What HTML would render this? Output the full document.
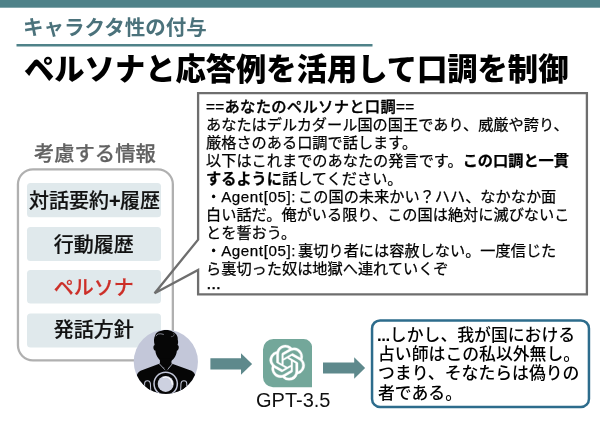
<!DOCTYPE html>
<html lang="ja">
<head>
<meta charset="utf-8">
<title>キャラクタ性の付与</title>
<style>
html,body{margin:0;padding:0;}
body{width:600px;height:424px;position:relative;overflow:hidden;background:#fff;
  font-family:"Liberation Sans","Noto Sans CJK JP",sans-serif;color:#000;}
.abs{position:absolute;white-space:nowrap;}
div.abs{will-change:transform;}
#sub{left:23px;top:13.3px;font-size:20.5px;line-height:30px;font-weight:700;color:#4b727b;}
#title{left:23.6px;top:47.6px;font-size:30.3px;line-height:44px;font-weight:900;font-family:"Liberation Sans","Noto Sans CJK JP Black","Noto Sans CJK JP",sans-serif;color:#000;}
#bigtext{-webkit-text-stroke:0.25px #000;left:206.4px;top:97.9px;font-size:15.2px;line-height:17.95px;color:#000;}
#bigtext b{font-weight:700;}
#consider{left:34.4px;top:138.6px;font-size:20.3px;line-height:30px;font-weight:500;color:#616161;-webkit-text-stroke:0.25px #616161;}
.item{left:27px;width:133.5px;height:34px;text-align:center;font-size:20px;line-height:37.5px;font-weight:500;color:#111;-webkit-text-stroke-width:0.2px;}
#gptlabel{left:255.8px;top:388px;font-size:20px;line-height:24px;color:#111;}
#outtext{left:378.4px;top:326.3px;font-size:16.85px;line-height:19.2px;font-weight:500;color:#000;}
.lat{letter-spacing:0.55px;word-spacing:-2.6px;}
</style>
</head>
<body>
<svg class="abs" style="left:0;top:0" width="600" height="424" viewBox="0 0 600 424">
  <rect x="0" y="0" width="600" height="7.7" fill="#4f8289"/>
  <rect x="16.5" y="44" width="356" height="2.5" fill="#4f8289"/>
  <rect x="17.95" y="169.35" width="154.9" height="191" rx="15" ry="15" fill="#fff" stroke="#b0b0b0" stroke-width="2.3"/>
  <g fill="#e0e9ec">
    <rect x="27" y="183" width="134" height="34.3" rx="3.5"/>
    <rect x="27" y="227" width="134" height="34" rx="3.5"/>
    <rect x="27" y="270" width="134" height="33.5" rx="3.5"/>
    <rect x="27" y="313.4" width="134" height="34" rx="3.5"/>
  </g>
  <path d="M198.1 93.1 H586.9 V294.4 H198.1 V270 L154.6 293.2 L198.1 239.6 Z" fill="none" stroke="#6e6e6e" stroke-width="2.3" stroke-linejoin="miter"/>
  <rect x="372.05" y="320.4" width="216.9" height="86.5" rx="8" ry="8" fill="#fff" stroke="#2d6c8c" stroke-width="2.5"/>
  <polygon points="210.4,358.3 241,358.3 241,353.2 252.1,364 241,374.8 241,369.5 210.4,369.5" fill="#5e898c"/>
  <polygon points="323,362.4 354.2,362.4 354.2,357.3 365.1,368 354.2,378.7 354.2,373.6 323,373.6" fill="#5e898c"/>
</svg>
<div id="sub" class="abs">キャラクタ性の付与</div>
<div id="title" class="abs">ペルソナと応答例を活用して口調を制御</div>

<div id="consider" class="abs">考慮する情報</div>
<div class="abs item" style="top:183px;text-indent:1.6px">対話要約<span style="font-weight:700;margin-right:-0.7px">+</span>履歴</div>
<div class="abs item" style="top:227px">行動履歴</div>
<div class="abs item" style="top:270px;color:#cc2f28">ペルソナ</div>
<div class="abs item" style="top:313.5px;line-height:33.5px">発話方針</div>

<div id="bigtext" class="abs"><span style="font-weight:500;font-size:15.3px;letter-spacing:0.3px;-webkit-text-stroke:0.35px #000">==あなたのペルソナと口調==</span><br>あなたはデルカダール国の国王であり、威厳や誇り、<br>厳格さのある口調で話します。<br>以下はこれまでのあなたの発言です。<b>この口調と一貫</b><br><b>するように</b>話してください。<br>・<span class="lat">Agent[05]: </span>この国の未来かい？ハハ、なかなか面<br>白い話だ。俺がいる限り、この国は絶対に滅びないこ<br>とを誓おう。<br>・<span class="lat">Agent[05]: </span>裏切り者には容赦しない。一度信じた<br>ら裏切った奴は地獄へ連れていくぞ<br><span style="position:relative;top:-2.8px;letter-spacing:0.3px;-webkit-text-stroke-width:0.6px">…</span></div>

<!-- avatar -->
<svg class="abs" style="left:130px;top:325px" width="70" height="72.04" viewBox="0 0 412 424">
  <defs><clipPath id="avc"><circle cx="211" cy="216.5" r="189"/></clipPath></defs>
  <circle cx="211" cy="216.5" r="189" fill="#c3c7d9"/>
  <g clip-path="url(#avc)">
    <path fill="#060606" d="M149 150 C137 150 133 120 145 117 C139 95 140 76 148 62 C151 48 165 38 180 36 C200 25 236 27 251 40 C271 48 283 65 281 86 C285 100 283 111 280 117 C292 120 288 150 276 151 C273 185 250 218 212 223 C175 218 152 185 149 150 Z"/>
    <path d="M154 64 Q160 44 197 55" fill="none" stroke="#c3c7d9" stroke-opacity="0.75" stroke-width="5" stroke-linecap="round"/>
    <path d="M243 69 Q268 66 258 50" fill="none" stroke="#c3c7d9" stroke-opacity="0.6" stroke-width="4" stroke-linecap="round"/>
    <rect x="176" y="195" width="68" height="55" fill="#060606"/>
    <path fill="#060606" d="M176 226 L62 270 C46 277 40 292 38 310 L30 430 L395 430 L386 310 C384 292 378 277 362 270 L244 226 L213 266 Z"/>
    <path d="M174 230 L206 264 M248 230 L220 264" stroke="#c3c7d9" stroke-width="5" fill="none" stroke-linecap="round"/>
    <path fill="#060606" d="M199 240 L227 240 L223 260 L213 268 L203 260 Z"/>
    <circle cx="210" cy="346" r="73" fill="#c3c7d9"/>
    <circle cx="210" cy="346" r="64" fill="#060606"/>
    <circle cx="210" cy="347" r="47" fill="#cdd1e0"/>
    <path d="M196 309 A40 40 0 0 1 249 350" fill="none" stroke="#fff" stroke-width="6" stroke-linecap="round"/>
    <path d="M86 430 L86 345 C86 322 118 322 120 345 L124 430 Z" fill="#060606" stroke="#c3c7d9" stroke-width="6"/>
    <path d="M334 430 L334 345 C334 322 302 322 300 345 L296 430 Z" fill="#060606" stroke="#c3c7d9" stroke-width="6"/>
  </g>
</svg>


<!-- GPT icon -->
<svg class="abs" style="left:263.4px;top:339.3px" width="49.1" height="48.3" viewBox="0 0 49.1 48.3">
  <path d="M10.5 0 H40.6 A8.5 8.5 0 0 1 49.1 8.5 V48.3 H10 A10 10 0 0 1 0 38.3 V10.5 A10.5 10.5 0 0 1 10.5 0 Z" fill="#73a79a"/>
  <g transform="translate(6.56 6.06) scale(1.47)">
  <path fill="#fff" stroke="#fff" stroke-width="0.25" stroke-linejoin="round" d="M22.2819 9.8211a5.9847 5.9847 0 0 0-.5157-4.9108 6.0462 6.0462 0 0 0-6.5098-2.9A6.0651 6.0651 0 0 0 4.9807 4.1818a5.9847 5.9847 0 0 0-3.9977 2.9 6.0462 6.0462 0 0 0 .7427 7.0966 5.98 5.98 0 0 0 .511 4.9107 6.051 6.051 0 0 0 6.5146 2.9001A5.9847 5.9847 0 0 0 13.2599 24a6.0557 6.0557 0 0 0 5.7718-4.2058 5.9894 5.9894 0 0 0 3.9977-2.9001 6.0557 6.0557 0 0 0-.7475-7.0729zm-9.022 12.6081a4.4755 4.4755 0 0 1-2.8764-1.0408l.1419-.0804 4.7783-2.7582a.7948.7948 0 0 0 .3927-.6813v-6.7369l2.02 1.1686a.071.071 0 0 1 .038.052v5.5826a4.504 4.504 0 0 1-4.4945 4.4944zm-9.6607-4.1254a4.4708 4.4708 0 0 1-.5346-3.0137l.142.0852 4.783 2.7582a.7712.7712 0 0 0 .7806 0l5.8428-3.3685v2.3324a.0804.0804 0 0 1-.0332.0615L9.74 19.9502a4.4992 4.4992 0 0 1-6.1408-1.6464zM2.3408 7.8956a4.485 4.485 0 0 1 2.3655-1.9728V11.6a.7664.7664 0 0 0 .3879.6765l5.8144 3.3543-2.0201 1.1685a.0757.0757 0 0 1-.071 0l-4.8303-2.7865A4.504 4.504 0 0 1 2.3408 7.872zm16.5963 3.8558L13.1038 8.364 15.1192 7.2a.0757.0757 0 0 1 .071 0l4.8303 2.7913a4.4944 4.4944 0 0 1-.6765 8.1042v-5.6772a.79.79 0 0 0-.407-.667zm2.0107-3.0231l-.142-.0852-4.7735-2.7818a.7759.7759 0 0 0-.7854 0L9.409 9.2297V6.8974a.0662.0662 0 0 1 .0284-.0615l4.8303-2.7866a4.4992 4.4992 0 0 1 6.6802 4.66zM8.3065 12.863l-2.02-1.1638a.0804.0804 0 0 1-.038-.0567V6.0742a4.4992 4.4992 0 0 1 7.3757-3.4537l-.142.0805L8.704 5.459a.7948.7948 0 0 0-.3927.6813zm1.0976-2.3654l2.602-1.4998 2.6069 1.4998v2.9994l-2.5974 1.4997-2.6067-1.4997Z"/>
  </g>
</svg>

<div id="gptlabel" class="abs">GPT-3.5</div>

<div id="outtext" class="abs"><span style="font-weight:700;letter-spacing:-0.43px;margin-left:-1.1px;margin-right:0.2px">...</span>しかし、我が国における<br>占い師はこの私以外無し。<br>つまり、そなたらは偽りの<br>者である。</div>
</body>
</html>
